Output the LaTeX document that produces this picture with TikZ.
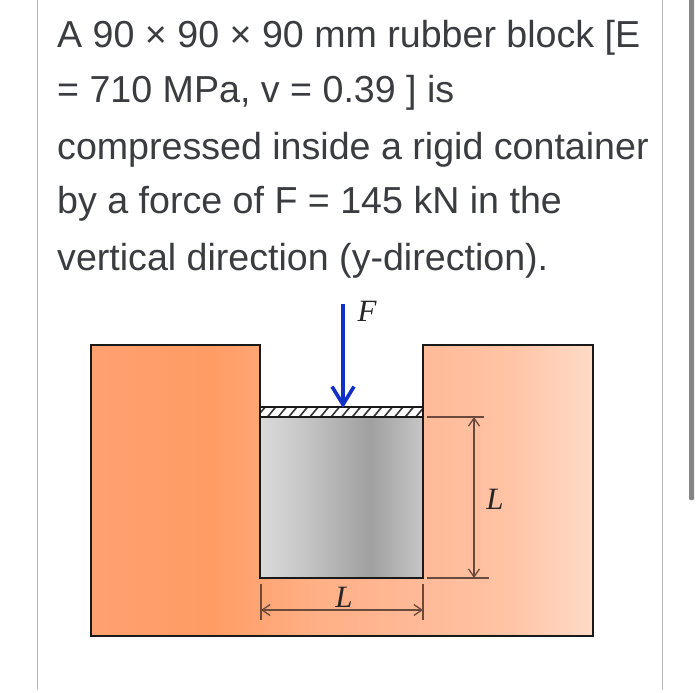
\documentclass[tikz,border=0pt]{standalone}
\usepackage{fontspec}
\setmainfont{Liberation Sans}
\newfontfamily\figserif{Liberation Serif}
\usetikzlibrary{arrows.meta,patterns}
\definecolor{bodyA}{HTML}{FFA070}
\definecolor{bodyB}{HTML}{FF9C64}
\definecolor{bodyC}{HTML}{FFAF85}
\definecolor{bodyE}{HTML}{FFBA98}
\definecolor{bodyF}{HTML}{FFC4A6}
\definecolor{bodyD}{HTML}{FFDBC7}
\definecolor{blockA}{HTML}{DADADA}
\definecolor{blockB}{HTML}{C8C8C8}
\definecolor{blockC}{HTML}{A0A0A0}
\definecolor{blockD}{HTML}{C6C6C6}
\definecolor{frameline}{HTML}{B8B8B8}
\definecolor{scrollbar}{HTML}{858585}
\definecolor{arrowblue}{HTML}{1030C8}
\definecolor{dimline}{HTML}{6A4A3C}
\definecolor{inktext}{HTML}{3A3C40}
\pgfdeclarehorizontalshading{bodyshade}{100bp}{
  color(0bp)=(bodyA); color(25bp)=(bodyA); color(37bp)=(bodyB); color(47bp)=(bodyC);
  color(58bp)=(bodyE); color(67bp)=(bodyF); color(75bp)=(bodyD); color(100bp)=(bodyD)}
\pgfdeclarehorizontalshading{blockshade}{100bp}{
  color(0bp)=(blockA); color(25bp)=(blockA); color(37bp)=(blockB); color(58.6bp)=(blockC);
  color(75bp)=(blockD); color(100bp)=(blockD)}
\tikzset{
  x=1pt,y=-1pt,
  textline/.style={anchor=base west,inner sep=0pt,font=\fontsize{37.6}{40}\selectfont,text=inktext},
  figlabel/.style={inner sep=0pt,font=\figserif\itshape\fontsize{31}{34}\selectfont,text=black!85},
  outline/.style={draw=black!90,line width=2.6pt,line join=miter},
  dimension/.style={draw=dimline,line width=1.3pt},
  dimarrow/.style={dimension,{Straight Barb[length=8pt,width=11pt]}-{Straight Barb[length=8pt,width=11pt]}},
}
\begin{document}
\begin{tikzpicture}
\useasboundingbox (0,0) rectangle (700,692);
\fill[white] (0,0) rectangle (700,692);
% page frame
\draw[frameline,line width=1.8pt] (37.5,0) -- (37.5,690);
\draw[frameline,line width=1.8pt] (662.5,0) -- (662.5,690);
\fill[scrollbar,rounded corners=1pt] (689,-3) rectangle (694,500);
% text
\node[textline] (t1) at (57,48) {A 90 × 90 × 90 mm rubber block [E};
\node[textline] (t2) at (57,103) {= 710 MPa, v = 0.39 ] is};
\node[textline] (t3) at (57,159.5) {compressed inside a rigid container};
\node[textline] (t4) at (57,214) {by a force of F = 145 kN in the};
\node[textline] (t5) at (57,270) {vertical direction (y-direction).};
% container
\shade[shading=bodyshade] (91,345) -- (260,345) -- (260,578) -- (423,578) -- (423,345) -- (593,345) -- (593,636) -- (91,636) -- cycle;
% block
\shade[shading=blockshade] (261,417) rectangle (423,578);
% plate with hatching
\begin{scope}
\clip (261,407) rectangle (423,417);
\foreach \i in {0,...,16}{
  \draw[black!80,line width=1.6pt] (256+\i*10.6,418) -- (266+\i*10.6,406);
}
\end{scope}
\draw[black!90,line width=2pt] (261,407) -- (423,407);
\draw[outline] (91,345) -- (260,345) -- (260,578) -- (423,578) -- (423,345) -- (593,345) -- (593,636) -- (91,636) -- cycle;
\draw[black!90,line width=2pt] (261,417) -- (423,417);
% force
\coordinate (ftop) at (343,304);
\coordinate (ftip) at (343,408);
\draw[arrowblue,line width=3.4pt,-{Straight Barb[length=18pt,width=22pt,line width=3.6pt]}] (ftop) -- (ftip);
\node[figlabel] (flabel) at (367,311) {F};
% vertical dimension
\coordinate (vt1) at (427,417); \coordinate (vt2) at (484,417);
\coordinate (vb1) at (427,578); \coordinate (vb2) at (489,578);
\coordinate (vat) at (474,417); \coordinate (vab) at (474,578);
\draw[dimension] (vt1) -- (vt2);
\draw[dimension] (vb1) -- (vb2);
\draw[dimarrow] (vat) -- (vab);
\node[figlabel] (lv) at (495,499) {L};
% horizontal dimension
\coordinate (hl1) at (261,584); \coordinate (hl2) at (261,620);
\coordinate (hr1) at (423,584); \coordinate (hr2) at (423,620);
\coordinate (hal) at (261,610); \coordinate (har) at (423,610);
\draw[dimension] (hl1) -- (hl2);
\draw[dimension] (hr1) -- (hr2);
\draw[dimarrow] (hal) -- (har);
\node[figlabel] (lh) at (344,597) {L};
\end{tikzpicture}
\end{document}
